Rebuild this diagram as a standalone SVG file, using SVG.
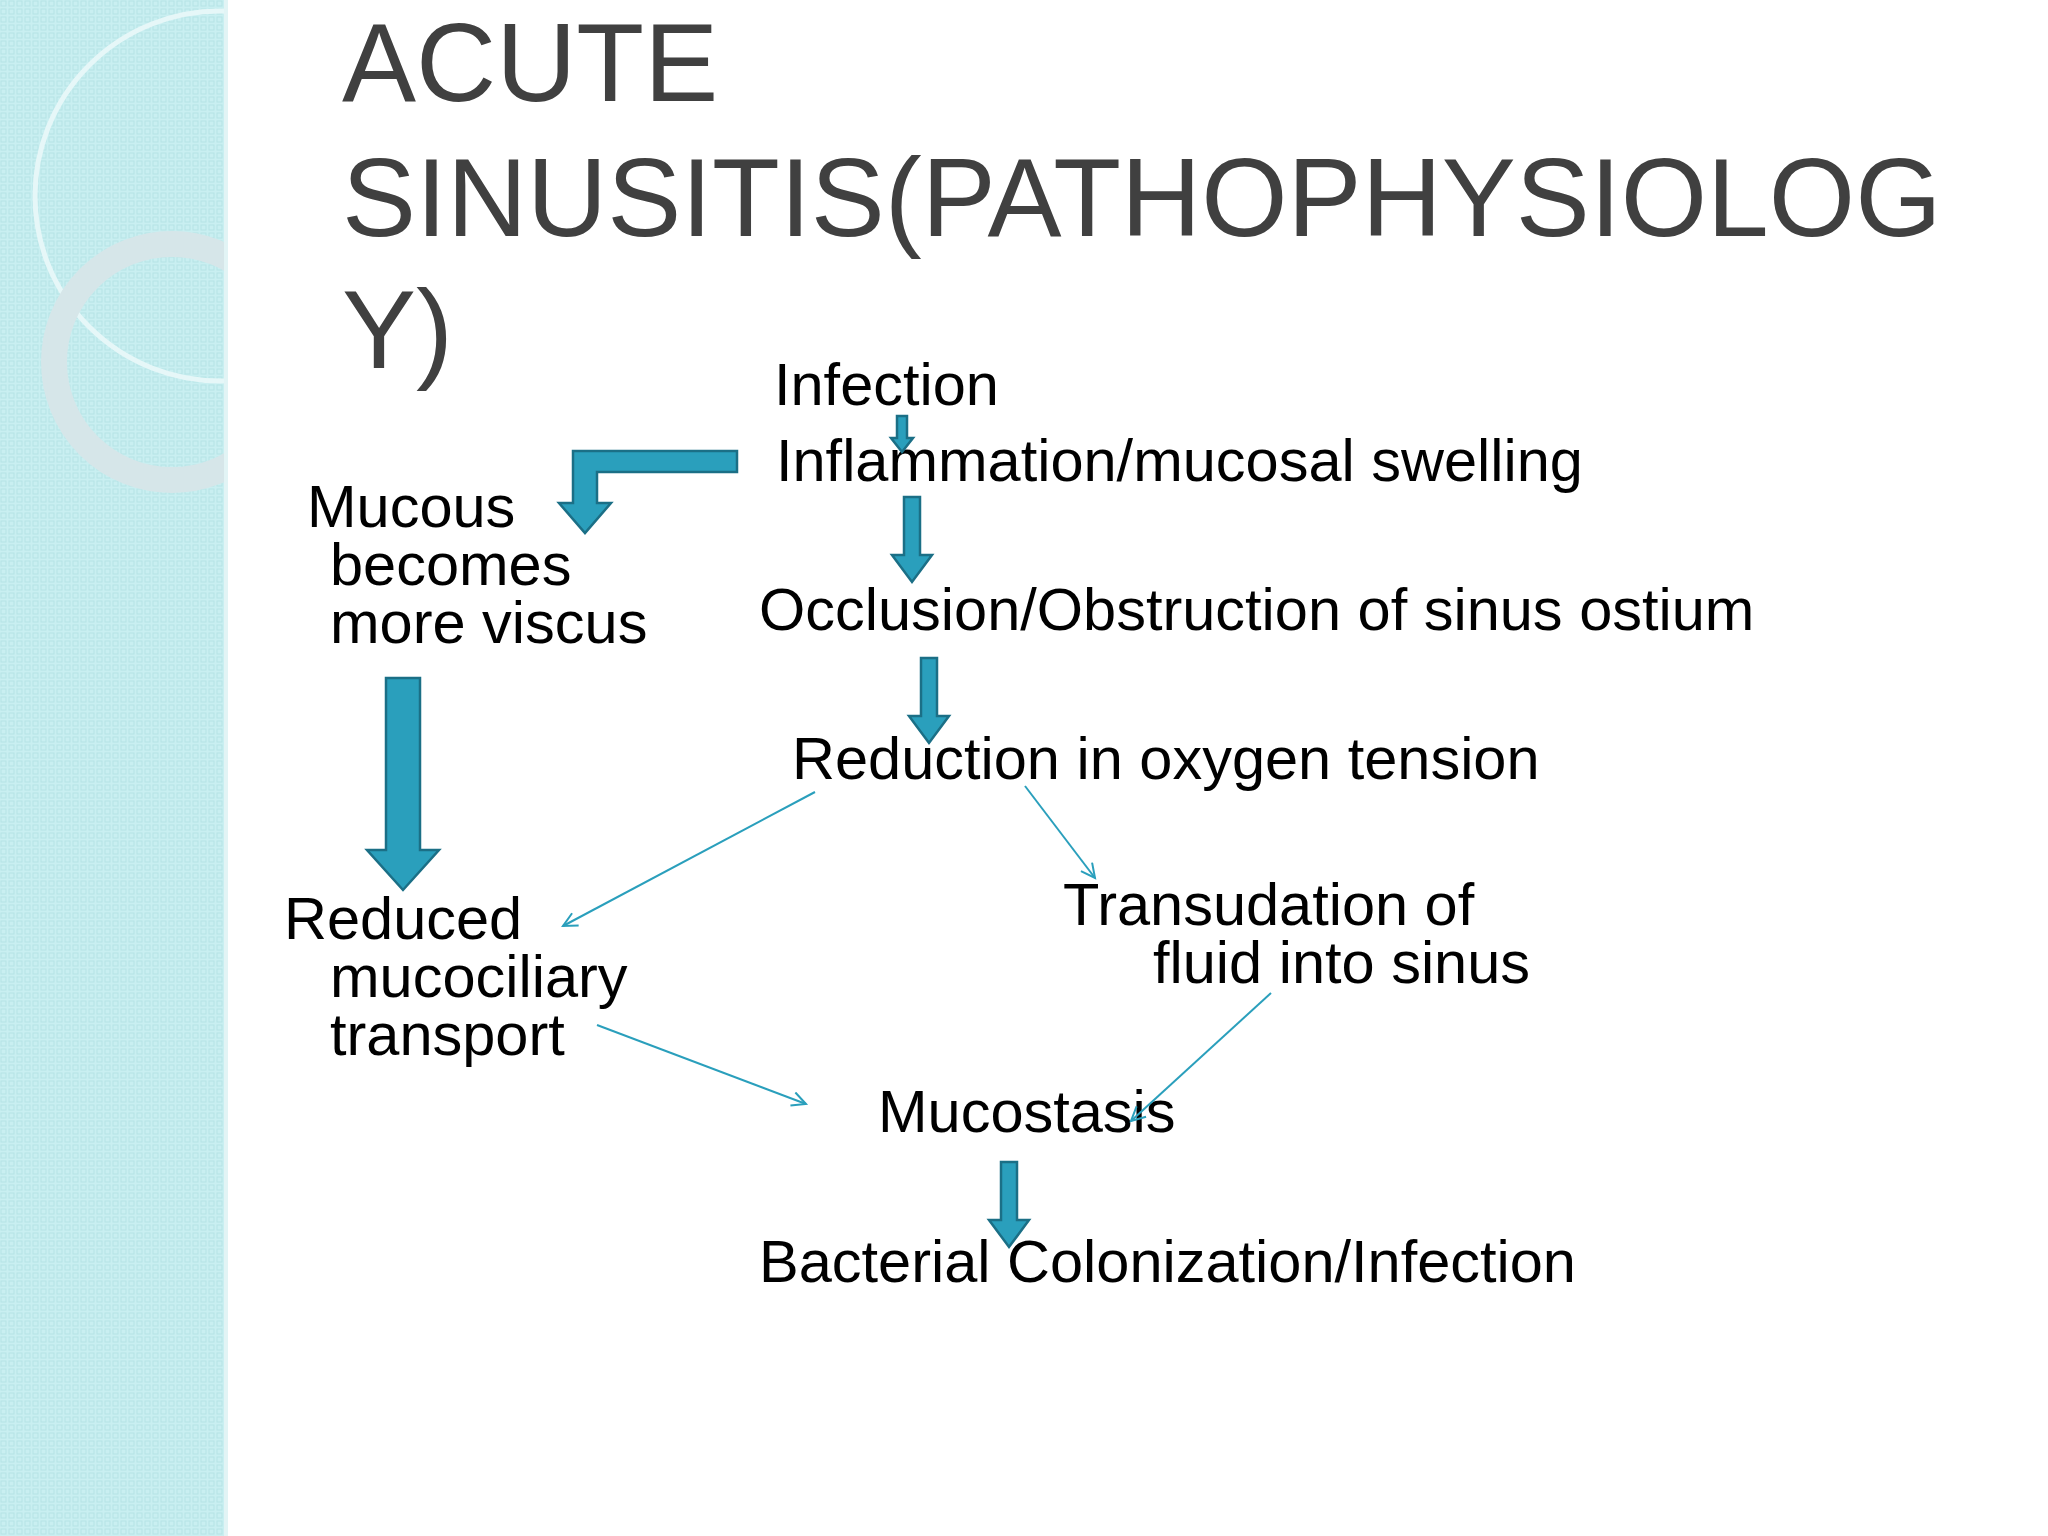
<svg xmlns="http://www.w3.org/2000/svg" width="2048" height="1536" viewBox="0 0 2048 1536">
<defs>
<style>
.t{font-family:"Liberation Sans",Arial,sans-serif;fill:#000;font-size:59.5px}
.title{font-family:"Liberation Sans",Arial,sans-serif;fill:#404040;font-size:111px}
.blk{fill:#2a9fbc;stroke:#1b6f86;stroke-width:2.5}
.thin{stroke:#2a9fbc;stroke-width:2;fill:none}
</style>
<marker id="ah" markerWidth="20" markerHeight="20" refX="16" refY="8" orient="auto" markerUnits="userSpaceOnUse">
<path d="M2,1 L16,8 L2,15" fill="none" stroke="#2a9fbc" stroke-width="2"/>
</marker>
<pattern id="dots" width="8" height="8" patternUnits="userSpaceOnUse">
<rect width="8" height="8" fill="#c9eff1"/>
<rect x="1" y="1" width="5" height="5" fill="none" stroke="#b5e3e6" stroke-width="1"/>
</pattern>
<clipPath id="strip"><rect x="0" y="0" width="227" height="1536"/></clipPath>
</defs>
<rect width="2048" height="1536" fill="#fff"/>
<g id="side">
<rect x="0" y="0" width="227" height="1536" fill="url(#dots)"/>
<g clip-path="url(#strip)">
<circle cx="220" cy="196" r="185" fill="none" stroke="#e6f7f8" stroke-width="5"/>
<circle cx="172" cy="362" r="118" fill="none" stroke="#d6e6e9" stroke-width="26"/>
</g>
<rect x="224" y="0" width="4" height="1536" fill="#e2f4f5"/>
</g>
<g id="title">
<text class="title" x="342" y="101">ACUTE</text>
<text class="title" x="342" y="236">SINUSITIS(PATHOPHYSIOLOG</text>
<text class="title" x="342" y="368">Y)</text>
</g>
<g id="n-mucous"><text class="t" x="307" y="527">Mucous</text><text class="t" x="330" y="585">becomes</text><text class="t" x="330" y="643">more viscus</text></g>
<g id="n-reduced"><text class="t" x="284" y="939">Reduced</text><text class="t" x="330" y="997">mucociliary</text><text class="t" x="330" y="1055">transport</text></g>
<g transform="translate(-9,0)">
<g id="n-infection"><text class="t" x="783" y="405">Infection</text></g>
<g id="n-inflammation"><text class="t" x="785" y="481">Inflammation/mucosal swelling</text></g>
<g id="n-occlusion"><text class="t" x="768" y="630">Occlusion/Obstruction of sinus ostium</text></g>
<g id="n-reduction"><text class="t" x="801" y="779">Reduction in oxygen tension</text></g>
<g id="n-transudation"><text class="t" x="1072" y="925">Transudation of</text><text class="t" x="1162" y="983">fluid into sinus</text></g>
<g id="n-mucostasis"><text class="t" x="887" y="1132">Mucostasis</text></g>
<g id="n-bacterial"><text class="t" x="768" y="1282">Bacterial Colonization/Infection</text></g>
</g>
<g id="connectors">
<g transform="translate(-9,0)">
<path class="blk" d="M906,416 h10 v22 h6 l-11,14 l-11,-14 h6 z"/>
<path class="blk" d="M913,497 h16 v58 h12 l-20,27 l-20,-27 h12 z"/>
<path class="blk" d="M930,658 h16 v58 h12 l-20,27 l-20,-27 h12 z"/>
<path class="blk" d="M1010,1162 h16 v58 h12 l-20,27 l-20,-27 h12 z"/>
<line class="thin" x1="824" y1="792" x2="572" y2="926" marker-end="url(#ah)"/>
<line class="thin" x1="1034" y1="786" x2="1104" y2="878" marker-end="url(#ah)"/>
<line class="thin" x1="606" y1="1025" x2="815" y2="1104" marker-end="url(#ah)"/>
<line class="thin" x1="1280" y1="993" x2="1140" y2="1121" marker-end="url(#ah)"/>
</g>
<path class="blk" d="M386,678 h34 v172 h19 l-36,40 l-36,-40 h19 z"/>
<path class="blk" d="M737,451 v21 h-140 v31 h14 l-26,30 l-26,-30 h14 v-52 z"/>
</g>
</svg>
